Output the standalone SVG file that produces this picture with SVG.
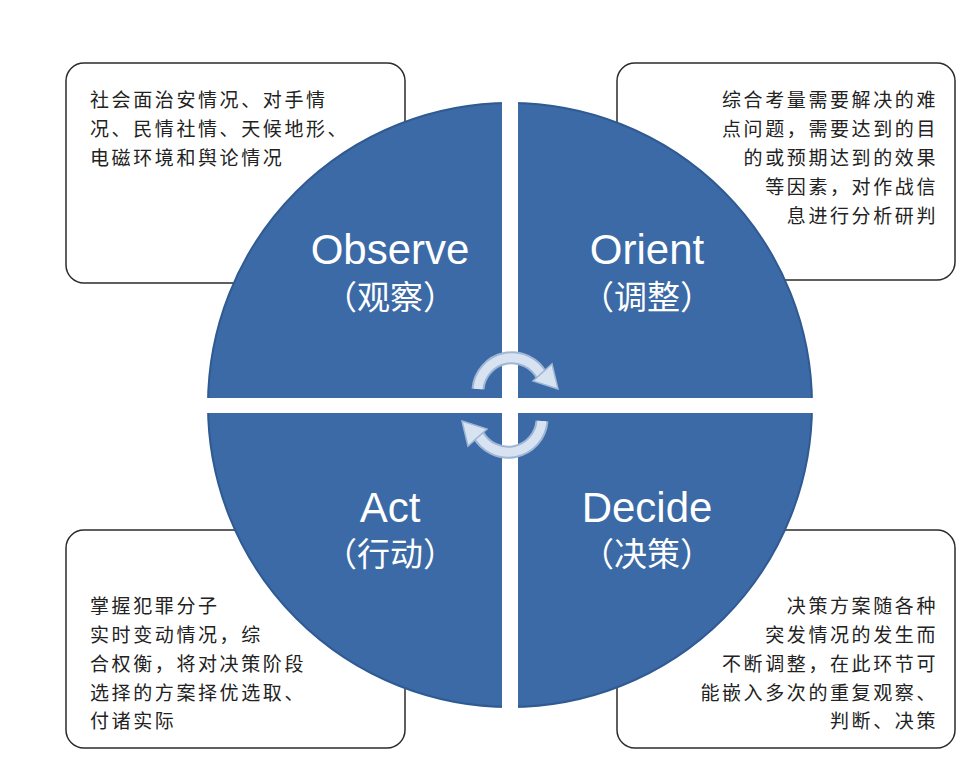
<svg xmlns="http://www.w3.org/2000/svg" width="969" height="757" viewBox="0 0 969 757">
<style>
.box{fill:#fff;stroke:#2b2b2b;stroke-width:1.5}
.t{font-family:"Noto Sans CJK SC","Noto Sans",sans-serif;font-size:19px;letter-spacing:2.6px;fill:#222}
.l{font-family:"Liberation Sans","Noto Sans CJK SC",sans-serif;font-size:42px;fill:#fff;text-anchor:middle}
.c{font-family:"Noto Sans CJK SC",sans-serif;font-size:33px;fill:#fff;text-anchor:middle}
</style>
<rect width="969" height="757" fill="#fff"/>
<g id="box-observe"><rect class="box" x="66" y="63" width="339" height="220" rx="18"/>
<text class="t" x="90" y="107">社会面治安情况、对手情</text>
<text class="t" x="90" y="136">况、民情社情、天候地形、</text>
<text class="t" x="90" y="165">电磁环境和舆论情况</text></g>
<g id="box-orient"><rect class="box" x="617" y="63" width="338" height="217" rx="18"/>
<g text-anchor="end"><text class="t" x="938" y="107">综合考量需要解决的难</text>
<text class="t" x="938" y="136">点问题，需要达到的目</text>
<text class="t" x="938" y="165">的或预期达到的效果</text>
<text class="t" x="938" y="194">等因素，对作战信</text>
<text class="t" x="938" y="223">息进行分析研判</text></g></g>
<g id="box-act"><rect class="box" x="66" y="530" width="339" height="218" rx="18"/>
<text class="t" x="90" y="613">掌握犯罪分子</text>
<text class="t" x="90" y="642">实时变动情况，综</text>
<text class="t" x="90" y="671">合权衡，将对决策阶段</text>
<text class="t" x="90" y="700">选择的方案择优选取、</text>
<text class="t" x="90" y="728">付诸实际</text></g>
<g id="box-decide"><rect class="box" x="617" y="530" width="338" height="218" rx="18"/>
<g text-anchor="end"><text class="t" x="938" y="613">决策方案随各种</text>
<text class="t" x="938" y="642">突发情况的发生而</text>
<text class="t" x="938" y="671">不断调整，在此环节可</text>
<text class="t" x="938" y="700">能嵌入多次的重复观察、</text>
<text class="t" x="938" y="728">判断、决策</text></g></g>
<g id="circle">
<circle cx="510" cy="405" r="302" fill="#3b6aa6" stroke="#2f5a92" stroke-width="2"/>
<rect x="502" y="95" width="16" height="620" fill="#fff"/>
<rect x="200" y="398" width="620" height="15" fill="#fff"/>
</g>
<g id="observe"><text class="l" x="390" y="264">Observe</text><text class="c" x="390" y="309">（观察）</text></g>
<g id="orient"><text class="l" x="647" y="264">Orient</text><text class="c" x="647" y="309">（调整）</text></g>
<g id="act"><text class="l" x="390" y="522">Act</text><text class="c" x="390" y="566">（行动）</text></g>
<g id="decide"><text class="l" x="647" y="522">Decide</text><text class="c" x="647" y="566">（决策）</text></g>
<g id="connectors">
<g id="arrow-top">
<path d="M478 389 A34 34 0 0 1 542 376" fill="none" stroke="#9fb6d6" stroke-width="13"/>
<path d="M478 389 A34 34 0 0 1 542 376" fill="none" stroke="#d8e3f1" stroke-width="9"/>
<polygon points="558,389 533,381 552,364" fill="#d8e3f1" stroke="#9fb6d6" stroke-width="1.5"/>
</g>
<g id="arrow-bottom" transform="rotate(180 510 405)">
<path d="M478 389 A34 34 0 0 1 542 376" fill="none" stroke="#9fb6d6" stroke-width="13"/>
<path d="M478 389 A34 34 0 0 1 542 376" fill="none" stroke="#d8e3f1" stroke-width="9"/>
<polygon points="558,389 533,381 552,364" fill="#d8e3f1" stroke="#9fb6d6" stroke-width="1.5"/>
</g>
</g>
</svg>
